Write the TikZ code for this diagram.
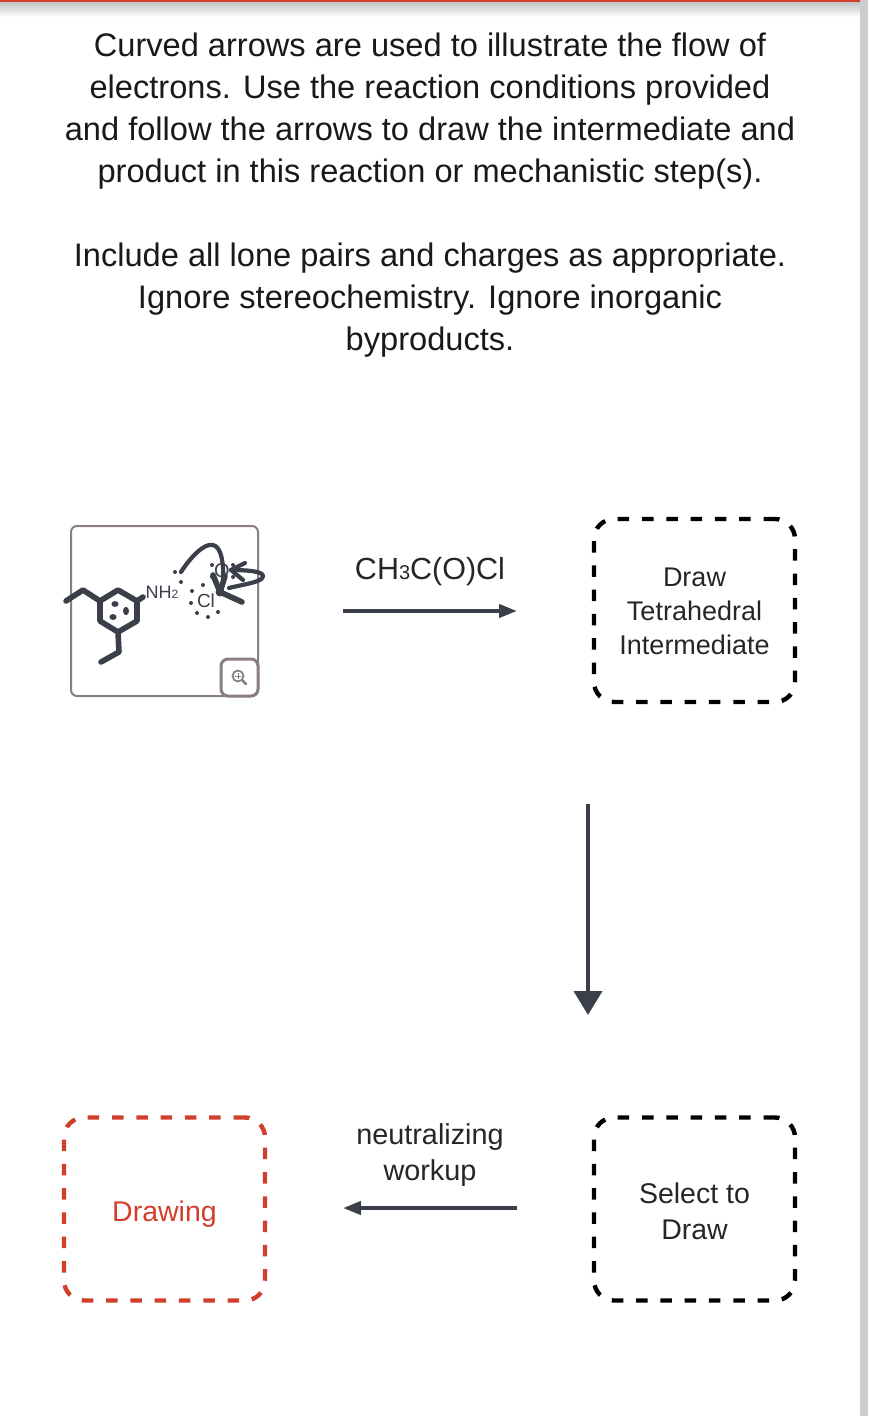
\documentclass[tikz,border=0pt]{standalone}
\usepackage{fontspec}
\setmainfont{Liberation Sans}
\usetikzlibrary{arrows.meta}
\definecolor{inkdark}{HTML}{3B3F4A}
\definecolor{framegray}{HTML}{8A7F7C}
\definecolor{alertred}{HTML}{D13F2C}
\tikzset{
  bodytext/.style={align=center,font=\fontsize{32.6}{42}\selectfont,text=black!90},
  labeltext/.style={align=center,font=\fontsize{28.8}{36}\selectfont,text=black!85},
  dashbox/.style={draw=black,line width=4.4pt,rounded corners=20pt,dash pattern=on 11.5pt off 12.8pt,minimum width=201pt,minimum height=183pt,outer sep=0pt,align=center,font=\fontsize{28.5}{36}\selectfont,text=black!85},
  flow/.style={draw=inkdark,line width=4pt,-{Triangle[length=18pt,width=13pt]}},
  bond/.style={draw=inkdark,line width=5.6pt,line cap=round,line join=round},
  lone/.style={fill=inkdark,circle,inner sep=0pt,minimum size=4pt},
  atom/.style={inner sep=0pt,text=inkdark,font=\fontsize{18}{18}\selectfont},
  curly/.style={draw=inkdark,line width=4.2pt,line cap=round,line join=round}
}
\begin{document}
\begin{tikzpicture}[x=1pt,y=-1pt]
\useasboundingbox (0,0) rectangle (868,1416);
% page edge
\shade[top color=black!24,bottom color=white] (0,2) rectangle (860,17);
\fill[alertred] (0,0) rectangle (860,2);
\fill[black!20] (860,0) rectangle (868,1416);
% question text
\node[bodytext] (intro) at (430,111) {Curved arrows are used to illustrate the flow of\\electrons. Use the reaction conditions provided\\and follow the arrows to draw the intermediate and\\product in this reaction or mechanistic step(s).};
\node[bodytext] (rules) at (430,300) {Include all lone pairs and charges as appropriate.\\Ignore stereochemistry. Ignore inorganic\\byproducts.};
% boxes
\node[draw=framegray,line width=2pt,rounded corners=6pt,minimum width=187pt,minimum height=170pt,outer sep=0pt] (start) at (164.5,611) {};
\node[draw=framegray,line width=3pt,rounded corners=7pt,minimum width=37pt,minimum height=37pt,outer sep=0pt] (zoombtn) at (239.5,677.5) {};
\node[dashbox] (tetra) at (694.5,610.5) {};
\node[dashbox,draw=none,font=\fontsize{27}{34}\selectfont] (tetratext) at (694.5,611.5) {Draw\\Tetrahedral\\Intermediate};
\node[dashbox] (select) at (694.5,1209) {};
\node[dashbox,draw=none] (selecttext) at (694.5,1211) {Select to\\Draw};
\node[dashbox,draw=alertred] (drawing) at (164.5,1209) {};
\node[dashbox,draw=none,text=alertred] (drawingtext) at (164.5,1214) {Drawing};
% magnifier
\draw[framegray,line width=1.8pt] (238,676) circle (5.5);
\draw[framegray,line width=2.8pt,line cap=round] (242.5,680.5) -- (246,684);
\draw[framegray,line width=1pt] (235,676) -- (241,676) (238,673) -- (238,679);
% reaction arrows
\coordinate (a1) at (343,611);
\coordinate (a2) at (517,611);
\coordinate (b1) at (588,804);
\coordinate (b2) at (588,1015);
\coordinate (c1) at (517,1208);
\coordinate (c2) at (343,1208);
\draw[flow] (a1) -- (a2);
\draw[flow,-{Triangle[length=24pt,width=28pt]}] (b1) -- (b2);
\draw[flow] (c1) -- (c2);
\node[labeltext,font=\fontsize{30.5}{36}\selectfont] (reagent) at (430,572) {CH{\fontsize{20}{20}\selectfont 3}C(O)Cl};
\node[labeltext] (workup) at (430,1155) {neutralizing\\workup};
% molecule
\coordinate (r1) at (118,590);
\coordinate (r2) at (137,601);
\coordinate (r3) at (137,621);
\coordinate (r4) at (118,632);
\coordinate (r5) at (100,621);
\coordinate (r6) at (100,601);
\draw[bond] (r1) -- (r2) -- (r3) -- (r4) -- (r5) -- (r6) -- cycle;
\draw[bond] (r6) -- (83,590) -- (66,601);
\draw[bond] (r2) -- (143,597);
\draw[bond] (r4) -- (119,652) -- (101,662);
\fill[inkdark] (115,604) ellipse (3.6 and 3) (113,617) ellipse (3.6 and 3) (126,611) ellipse (3 and 4.2);
\node[atom] (nh) at (162,592) {NH{\fontsize{12}{12}\selectfont 2}};
\node[atom,font=\fontsize{19}{19}\selectfont] (cl) at (206,601) {Cl};
\node[atom,font=\fontsize{20}{20}\selectfont] (ox) at (222,571) {O};
\coordinate (cc) at (220,592);
\draw[bond] (cc) -- (242,602);
\draw[bond] (cc) -- (213,575);
\draw[bond] (cc) -- (225,576);
\fill[inkdark] (cc) circle (4.5);
% lone pairs
\foreach \px/\py in {175/572,181/582,192/591,203/585,191/603,197/613,208/617,218/612,212/565,233/565,212/577,233/577}{
  \node[lone] at (\px,\py) {};
}
% curved arrows
\draw[curly] (181,572) .. controls (192,555) and (205,543) .. (213,545) .. controls (222,547) and (224,565) .. (223,585);
\draw[curly] (229,588) .. controls (245,584) and (263,582) .. (263,576) .. controls (263,571) and (245,570) .. (231,570);
\draw[curly] (245,563) -- (231,570) -- (243,580);
\end{tikzpicture}
\end{document}
